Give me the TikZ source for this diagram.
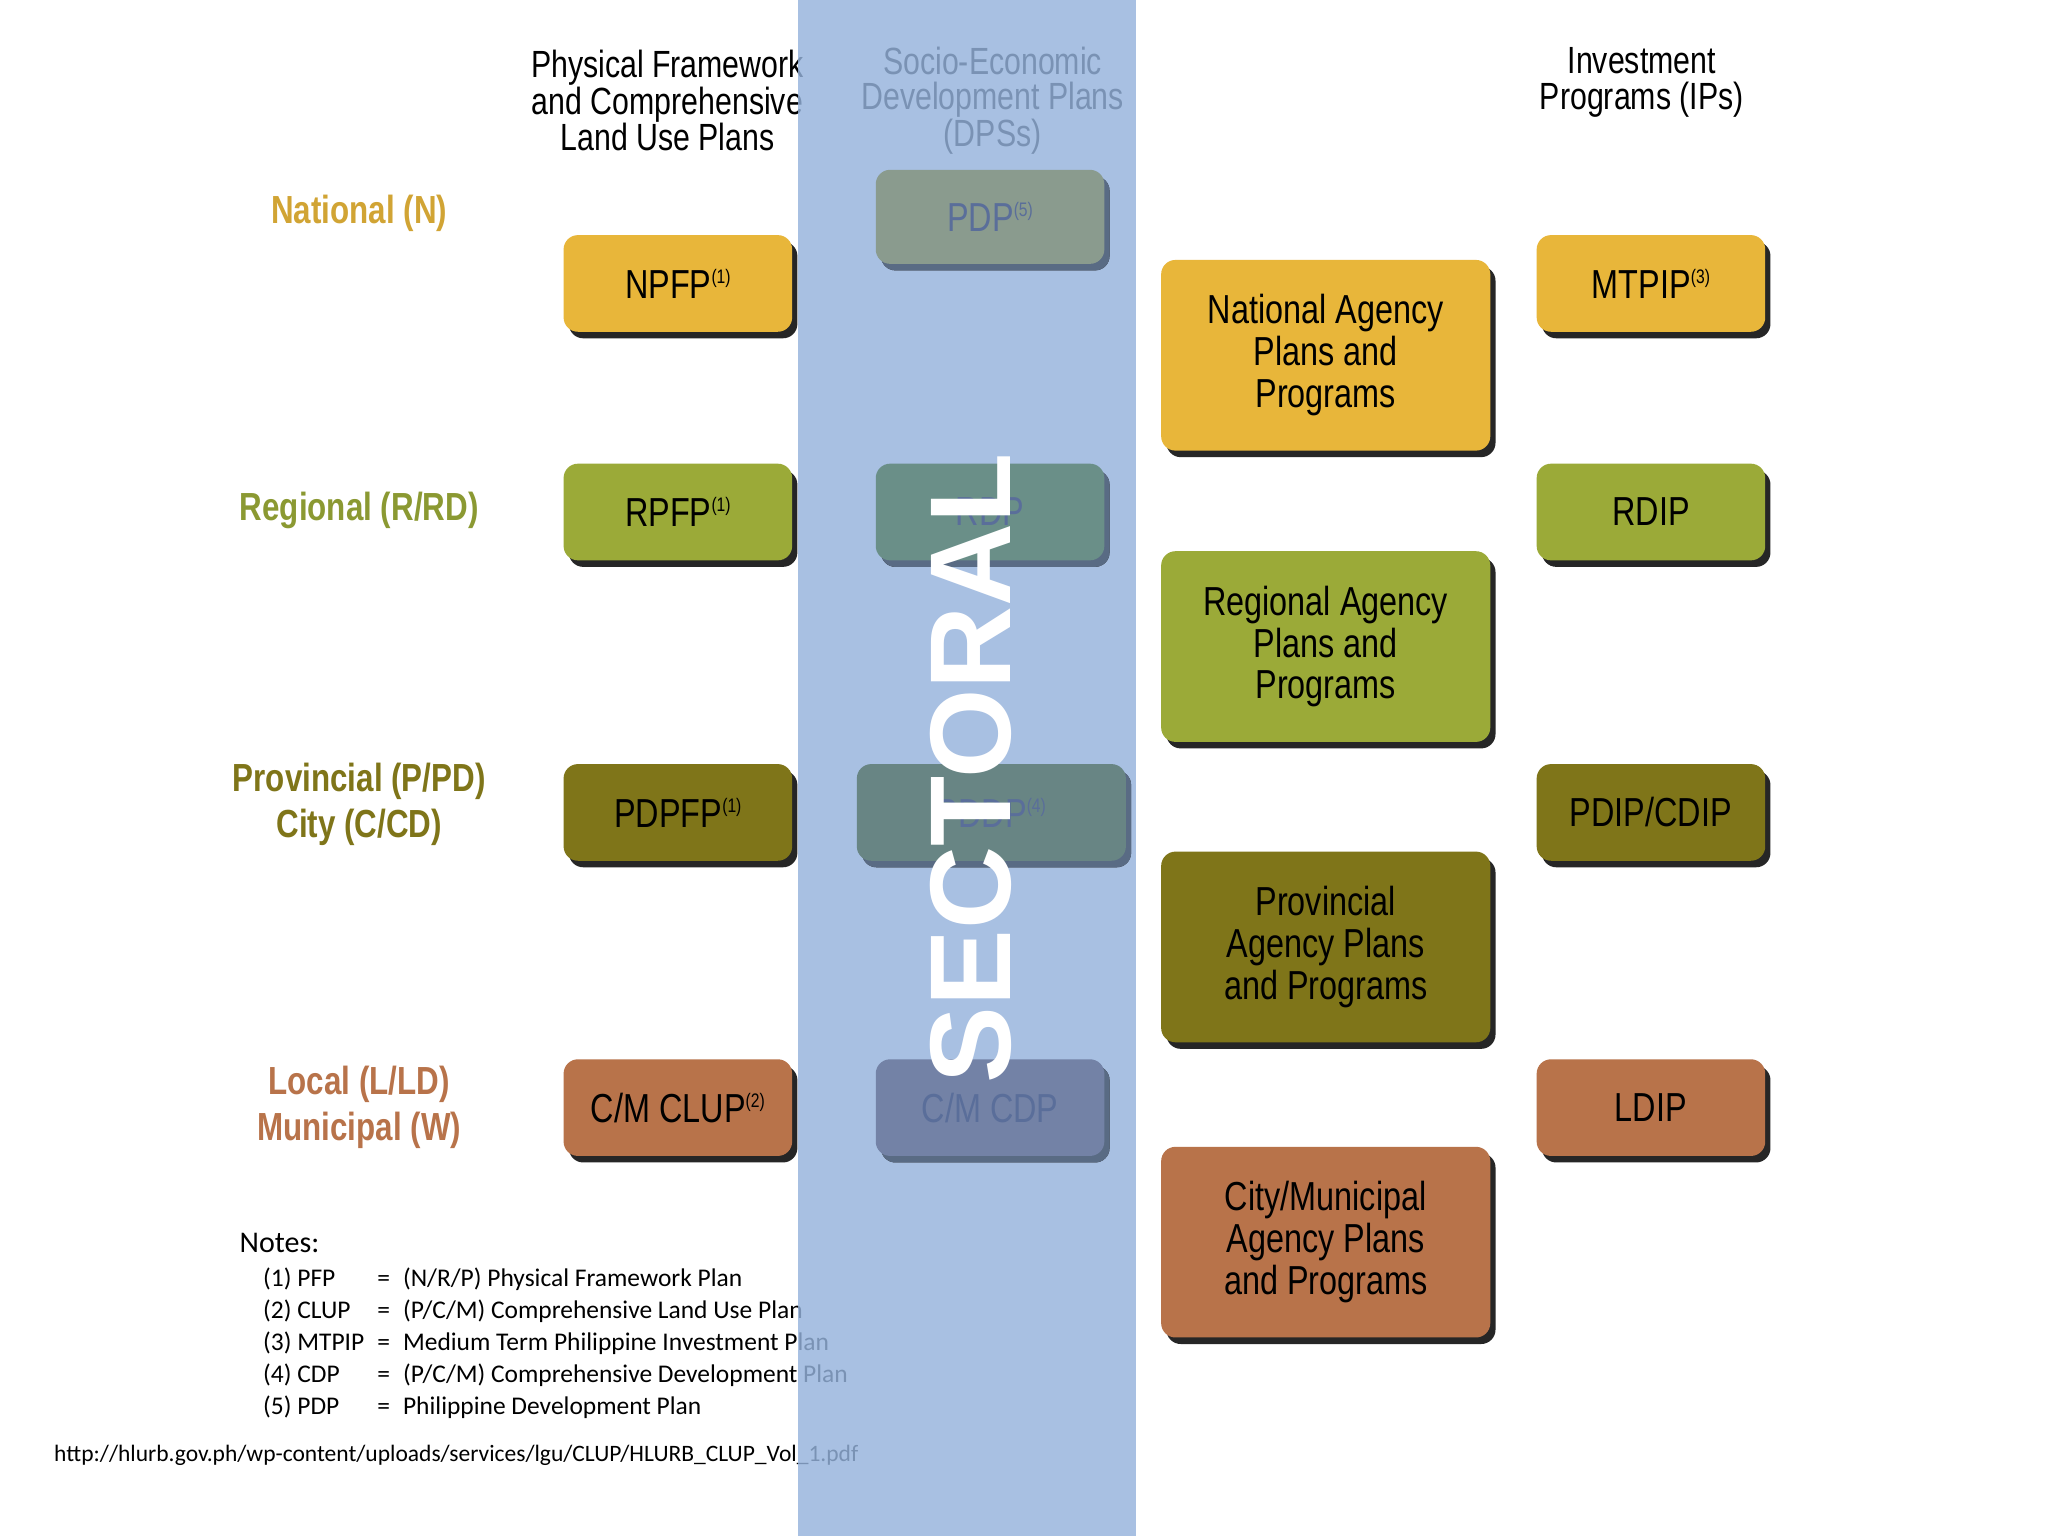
\documentclass[tikz,border=0pt]{standalone}
\usepackage{fontspec}
\setmainfont{Liberation Sans}
\newfontfamily\cond[FakeStretch=0.8]{Liberation Sans}
\newfontfamily\notef{Carlito}
\usetikzlibrary{shadows,backgrounds}
\definecolor{cy}{HTML}{E8B63A}
\definecolor{cg}{HTML}{9BAA38}
\definecolor{co}{HTML}{7F7519}
\definecolor{cb}{HTML}{B8734A}
\definecolor{band}{HTML}{95B3DC}
\definecolor{bpdp}{HTML}{8A9B8E}
\definecolor{brdp}{HTML}{6A8F88}
\definecolor{bpddp}{HTML}{688584}
\definecolor{bcdp}{HTML}{7382A6}
\definecolor{btxt}{HTML}{5A6E9A}
\newcommand\ssup[1]{\raisebox{0.7ex}{\fontsize{15}{15}\selectfont #1}}
\tikzset{
  x=1pt,y=-1pt,
  bx/.style={rounded corners=11pt,inner sep=2pt,align=center,
    font=\cond\fontsize{31}{32}\selectfont,
    drop shadow={shadow xshift=4pt,shadow yshift=-5pt,fill=black!85,opacity=1}},
  bbx/.style={bx,drop shadow={shadow xshift=4pt,shadow yshift=-5pt,fill=black!40!band,opacity=1},text=btxt},
  sm/.style={minimum width=175pt,minimum height=74pt},
  ag/.style={minimum width=252pt,minimum height=146pt},
  ln/.style={line width=3pt,black},
  hd/.style={align=center,font=\cond\fontsize{29}{27}\selectfont},
  rl/.style={align=center,font=\cond\bfseries\fontsize{30}{35}\selectfont},
}
\begin{document}
\begin{tikzpicture}
\useasboundingbox[fill=white] (0,0) rectangle (1568,1176);
% headers
\node[hd] (h1) at (511,77) {Physical Framework\\and Comprehensive\\Land Use Plans};
\node[hd] (h2) at (760,77) {Socio-Economic\\Development Plans\\(DPSs)};
\node[hd] (h3) at (1257,63) {Investment\\Programs (IPs)};
% row labels
\node[rl,text=cy!90!black] (r1) at (275,163) {National (N)};
\node[rl,text=cg!90!black] (r2) at (275,391) {Regional (R/RD)};
\node[rl,text=co] (r3) at (275,616) {Provincial (P/PD)\\City (C/CD)};
\node[rl,text=cb] (r4) at (275,848) {Local (L/LD)\\Municipal (W)};
% boxes
\node[bx,sm,fill=cy] (npfp) at (519,217) {NPFP\ssup{(1)}};
\node[bx,sm,fill=cy] (mtpip) at (1264,217) {MTPIP\ssup{(3)}};
\node[bx,ag,fill=cy] (natag) at (1015,272) {National Agency\\Plans and\\Programs};
\node[bx,sm,fill=cg] (rpfp) at (519,392) {RPFP\ssup{(1)}};
\node[bx,sm,fill=cg] (rdip) at (1264,392) {RDIP};
\node[bx,ag,fill=cg] (regag) at (1015,495) {Regional Agency\\Plans and\\Programs};
\node[bx,sm,fill=co] (pdpfp) at (519,622) {PDPFP\ssup{(1)}};
\node[bx,sm,fill=co] (pdip) at (1264,622) {PDIP/CDIP};
\node[bx,ag,fill=co] (provag) at (1015,725) {Provincial\\Agency Plans\\and Programs};
\node[bx,sm,fill=cb] (cmclup) at (519,848) {C/M CLUP\ssup{(2)}};
\node[bx,sm,fill=cb] (ldip) at (1264,848) {LDIP};
\node[bx,ag,fill=cb] (cmag) at (1015,951) {City/Municipal\\Agency Plans\\and Programs};
% connectors
\begin{pgfonlayer}{background}
\draw[ln] (npfp) -- (519,170) -- (1236,170) -- (1236,217);
\draw[ln] (npfp) -- (519,958) -- (cmag.center |- 0,958);
\draw[ln] (726,166) -- (726,282);
\draw[ln] (519,282) -- (natag.center |- 0,282);
\draw[ln] (790,166) -- (790,503);
\draw[ln] (natag.center |- 0,282) -- (1236,282) -- (mtpip.center -| 1236,0);
\draw[ln] (1287,217) -- (1287,930) -- (cmag.center |- 0,930);
\draw[ln] (rpfp) -- (rdip);
\draw[ln] (553,392) -- (553,503) -- (1236,503) -- (1236,392);
\draw[ln] (726,392) -- (726,622);
\draw[ln] (regag) -- (provag);
\draw[ln] (pdpfp) -- (pdip);
\draw[ln] (553,622) -- (553,735) -- (provag.center |- 0,735);
\draw[ln] (764,622) -- (764,708) -- (1236,708) -- (1236,622);
\draw[ln] (cmclup) -- (ldip);
\draw[ln] (1019,848) -- (cmag);
\draw[ln] (760,848) -- (760,930) -- (cmag.center |- 0,930);
\end{pgfonlayer}
% notes
\node[anchor=west,font=\notef\fontsize{23}{24}\selectfont] (notes) at (180,952) {Notes:};
\node[anchor=north west,font=\notef\fontsize{19.5}{24.5}\selectfont,align=left] (nl) at (198,964)
 {\begin{tabular}{@{}l@{\hspace{10pt}}c@{\hspace{10pt}}l@{}}
 (1) PFP & = & (N/R/P) Physical Framework Plan\\
 (2) CLUP & = & (P/C/M) Comprehensive Land Use Plan\\
 (3) MTPIP & = & Medium Term Philippine Investment Plan\\
 (4) CDP & = & (P/C/M) Comprehensive Development Plan\\
 (5) PDP & = & Philippine Development Plan
 \end{tabular}};
\node[anchor=west,font=\notef\fontsize{18}{20}\selectfont] (url) at (38,1114) {http://hlurb.gov.ph/wp-content/uploads/services/lgu/CLUP/HLURB\_CLUP\_Vol\_1.pdf};
% band
\fill[band,opacity=0.82] (611,0) rectangle (870,1176);
% band boxes
\node[bbx,sm,fill=bpdp,minimum height=72pt] (pdp) at (758,166) {PDP\ssup{(5)}};
\node[bbx,sm,fill=brdp] (rdp) at (758,392) {RDP};
\node[bbx,minimum width=206pt,minimum height=74pt,fill=bpddp] (pddp) at (759,622) {PDDP\ssup{(4)}};
\node[bbx,sm,fill=bcdp] (cmcdp) at (758,848) {C/M CDP};
% SECTORAL
\node[rotate=90,text=white,font=\bfseries\fontsize{88}{88}\selectfont] (sect) at (743,588) {SECTORAL};
\end{tikzpicture}
\end{document}
